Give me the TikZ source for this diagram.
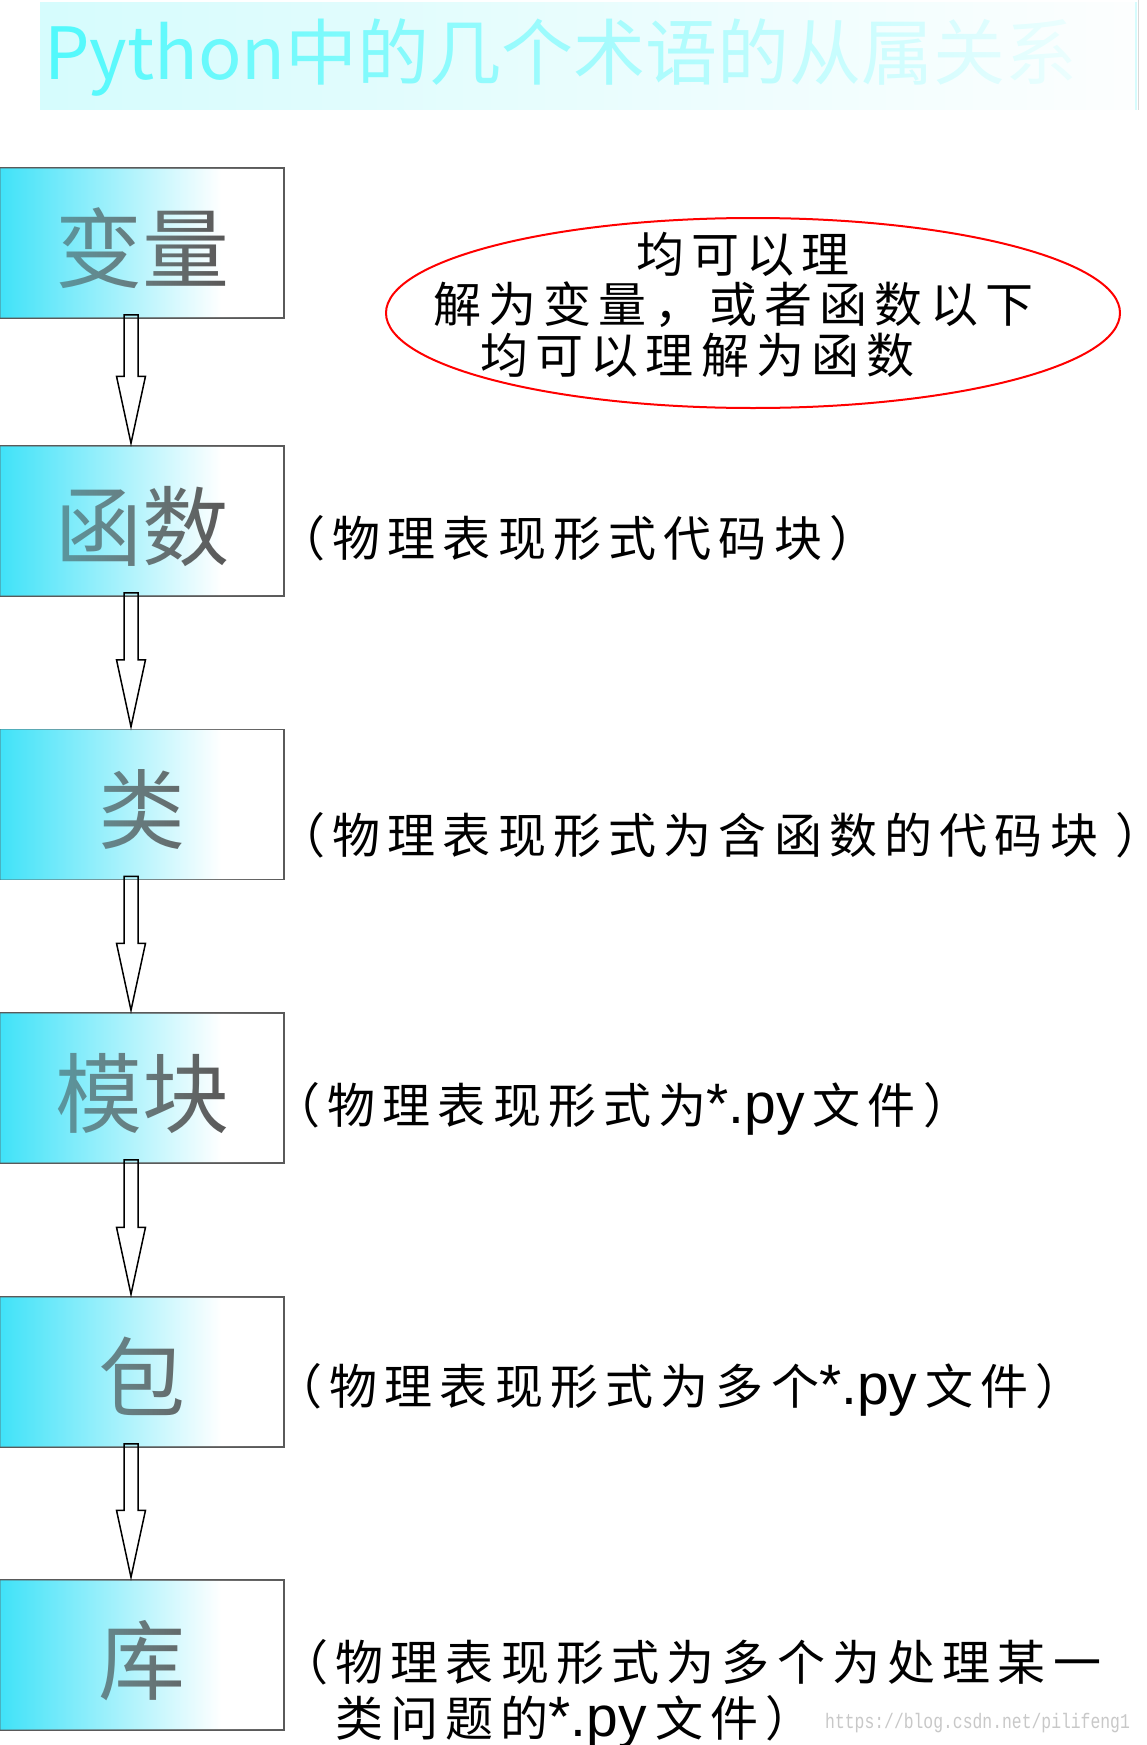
\documentclass[tikz,border=0pt]{standalone}
\usepackage{fontspec}
\usetikzlibrary{calc,fadings,shapes.geometric}
\newfontfamily\cjk{Noto Sans CJK SC}
\newfontfamily\cjksp[LetterSpace=15]{Noto Sans CJK SC}
\newfontfamily\latinfont{Liberation Sans}
\newfontfamily\wmfont{Liberation Mono}
\newcommand\pyname{{\latinfont\fontsize{57}{57}\selectfont *.py}}
\definecolor{boxcyan}{RGB}{64,226,248}
\definecolor{boxborder}{RGB}{90,90,90}
\definecolor{termgray}{RGB}{62,62,62}
\definecolor{titlebg}{RGB}{214,252,253}
\definecolor{titlecyan}{RGB}{80,249,252}
\definecolor{wmgray}{RGB}{200,200,200}
\pgfdeclarehorizontalshading{boxshade}{100bp}{color(0bp)=(boxcyan); color(25bp)=(boxcyan); color(64bp)=(white); color(100bp)=(white)}
\tikzfading[name=boxtextfade, left color=transparent!35, right color=transparent!100]
\tikzfading[name=titlefade, left color=transparent!100, right color=transparent!5]
\tikzset{
  termbox/.style={draw=boxborder, line width=1.5pt, shade, shading=boxshade,
    minimum width=284pt, minimum height=150pt, inner sep=0pt,
    font=\cjk\fontsize{87}{87}\selectfont, text=termgray,
    text height=82pt, text depth=6pt},
  hollowarrow/.style={draw=black, line width=1.5pt, line join=miter},
  desc/.style={anchor=base west, inner sep=0pt, align=left,
    font=\cjksp\fontsize{48}{56}\selectfont, text=black},
}
\begin{document}
\begin{tikzpicture}[x=1pt,y=-1pt]
\useasboundingbox (0,0) rectangle (1146,1745);
\fill[white] (0,0) rectangle (1146,1745);
% title banner
\fill[titlebg] (40,2) rectangle (1137,110);
\node[anchor=base west, inner sep=0pt, text=titlecyan, font=\cjk\fontsize{72}{72}\selectfont] (title) at (44,80) {Python中的几个术语的从属关系};
\fill[white, path fading=titlefade] (40,2) rectangle (1137,110);
\draw[gray!30, line width=1pt] (1138,0) -- (1138,110);
% term boxes
\node[termbox] (b1) at (142,243) {变量};
\node[termbox] (b2) at (142,521) {函数};
\node[termbox] (b3) at (142,804.5) {类};
\node[termbox] (b4) at (142,1088) {模块};
\node[termbox] (b5) at (142,1372) {包};
\node[termbox] (b6) at (142,1655) {库};
\foreach \b in {b1,b2,b3,b4,b5,b6}{
  \shade[shading=boxshade, path fading=boxtextfade] ($(\b.south west)+(1,-1)$) rectangle ($(\b.north east)+(-1,1)$);
}
% hollow arrows
\foreach \a/\b in {b1/b2,b2/b3,b3/b4,b4/b5,b5/b6}{
  \draw[hollowarrow] ($(\a.south)+(-18,-4)$) -- ($(\b.north)+(-18,-69)$) -- ($(\b.north)+(-25.5,-69)$)
    -- ($(\b.north)+(-11,-2)$) -- ($(\b.north)+(3.5,-69)$) -- ($(\b.north)+(-4,-69)$)
    -- ($(\a.south)+(-4,-4)$) -- cycle;
}
% note ellipse
\node[draw=red, line width=2pt, ellipse, minimum width=734pt, minimum height=190pt, inner sep=0pt] (note) at (753,313) {};
\node[anchor=base west, inner sep=0pt, align=left, font=\cjksp\fontsize{48}{50.5}\selectfont] (notetext) at (433,373)
  {\hspace*{203pt}均可以理\\解为变量，或者函数以下\\\hspace*{47pt}均可以理解为函数};
% descriptions
\node[desc] (d2) at (277,556) {（物理表现形式代码块\,）};
\node[desc] (d3) at (277,853) {（物理表现形式为含函数的代码块 \rlap{）}};
\node[desc] (d4) at (272,1123) {（物理表现形式为\pyname\,文件\,）};
\node[desc] (d5) at (274,1404) {（物理表现形式为多个\pyname\,文件）};
\node[desc] (d6) at (280,1736) {（物理表现形式为多个为处理某一\\\hspace*{55pt}类问题的\pyname\,文件）};
% watermark
\node[anchor=base west, inner sep=0pt, text=wmgray, font=\wmfont\fontsize{21}{21}\selectfont] (wm) at (825,1728) {\scalebox{0.78}[1]{https://blog.csdn.net/pilifeng1}};
\end{tikzpicture}
\end{document}
